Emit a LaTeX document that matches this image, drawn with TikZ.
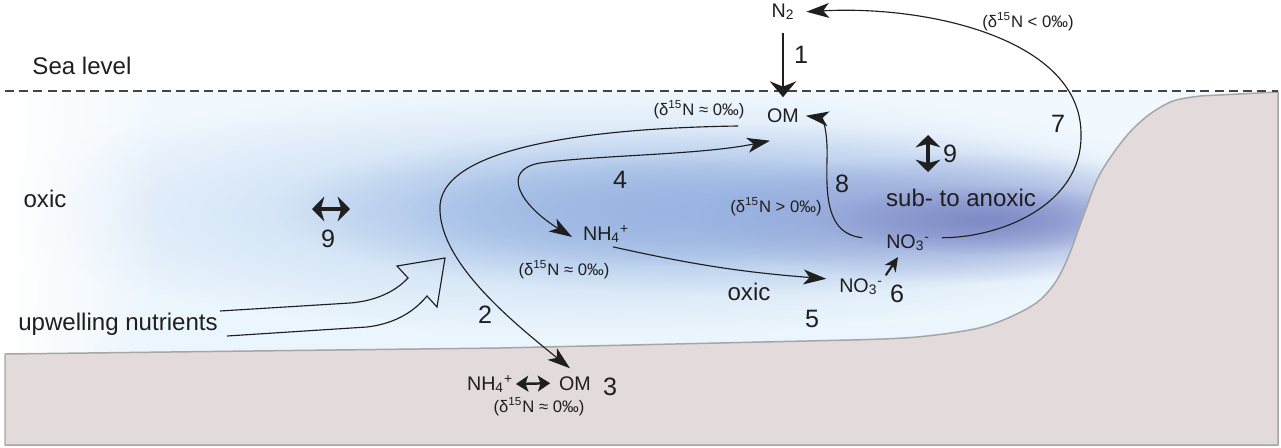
\documentclass[tikz,border=0pt]{standalone}
\usepackage{fontspec}
\setmainfont{Liberation Sans}
\usetikzlibrary{arrows.meta,fadings}

\definecolor{ink}{HTML}{1F1F1F}
\definecolor{seabed}{HTML}{E3DBDB}
\definecolor{seabedline}{HTML}{A8A5A5}
\definecolor{sealine}{HTML}{444444}
\definecolor{watertop}{HTML}{F2F9FE}
\definecolor{watermid}{HTML}{DCECF9}
\definecolor{waterbot}{HTML}{EAF5FD}
\definecolor{bandlight}{HTML}{BCD3F0}
\definecolor{bandmid}{HTML}{9AB5E2}
\definecolor{bandpurple}{HTML}{96A2D6}
\definecolor{banddark}{HTML}{7F8AC6}

\tikzfading[name=blob, inner color=transparent!0, outer color=transparent!100]
\tikzfading[name=fadeleft, left color=transparent!0, right color=transparent!100]

\tikzset{
  bigtext/.style={text=ink, inner sep=1.5pt, anchor=base, font=\fontsize{13.7}{16}\selectfont},
  numtext/.style={text=ink, inner sep=1.5pt, anchor=base, font=\fontsize{14.3}{17}\selectfont},
  chemtext/.style={text=ink, inner sep=1.5pt, anchor=base, font=\fontsize{11.2}{13}\selectfont},
  deltatext/.style={text=ink, inner sep=1.5pt, anchor=base, font=\fontsize{9.5}{11}\selectfont},
  flowarrow/.style={draw=ink, line width=0.65pt, -{Stealth[length=13pt,width=8.5pt,inset=3.5pt]}},
  flowboth/.style={draw=ink, line width=0.65pt, {Stealth[length=13pt,width=8.5pt,inset=3.5pt]}-{Stealth[length=13pt,width=8.5pt,inset=3.5pt]}},
  thickflow/.style={draw=ink, line width=1.3pt, -{Stealth[length=9pt,width=15pt,inset=3pt]}},
  shortflow/.style={draw=ink, line width=1.2pt, -{Stealth[length=8pt,width=7.5pt,inset=2.5pt]}},
  mixarrow/.style={draw=ink, line width=2pt, {Stealth[length=7pt,width=14pt,inset=2pt]}-{Stealth[length=7pt,width=14pt,inset=2pt]}},
  exchange/.style={draw=ink, line width=1.4pt, {Stealth[length=7pt,width=9pt,inset=1.5pt]}-{Stealth[length=7pt,width=9pt,inset=1.5pt]}}
}

\begin{document}
\begin{tikzpicture}[x=0.02cm,y=-0.02cm]
  \useasboundingbox (0,0) rectangle (1281,447);

  % water column
  \begin{scope}
    \clip (5,91) rectangle (1278,358);
    \shade[top color=watertop, middle color=watermid, bottom color=waterbot] (5,91) rectangle (1278,358);
    \fill[bandlight, path fading=blob] (600,210) ellipse [x radius=620, y radius=125];
    \fill[bandlight, path fading=blob] (560,212) ellipse [x radius=260, y radius=60];
    \fill[bandmid, path fading=blob] (740,210) ellipse [x radius=470, y radius=85];
    \fill[bandmid, path fading=blob] (700,212) ellipse [x radius=300, y radius=55];
    \fill[bandpurple, path fading=blob] (960,218) ellipse [x radius=260, y radius=65];
    \fill[banddark, path fading=blob] (985,220) ellipse [x radius=170, y radius=35];
    \fill[white, path fading=fadeleft] (5,91) rectangle (160,358);
  \end{scope}

  % seabed
  \draw[seabedline, line width=0.85pt, fill=seabed, line join=round]
    (5,354) -- (500,348) -- plot[smooth, tension=0.55] coordinates {(850,340) (917,337) (983,327) (1030,307) (1052,287) (1067,260) (1083,217) (1097,180) (1112,155) (1130,132) (1150,114) (1173,101) (1200,96)}
    -- (1278,92) -- (1278,445) -- (5,445) -- cycle;

  % sea level
  \draw[sealine, line width=0.75pt, dash pattern=on 5.1pt off 3pt] (5,91) -- (1278,91);

  % texts
  \node[bigtext] (sealevel) at (82,74) {Sea level};
  \node[bigtext] (oxicleft) at (45,207) {oxic};
  \node[bigtext] (upwelling) at (118,330) {upwelling nutrients};
  \node[bigtext] (oxicmid) at (749,300) {oxic};
  \node[bigtext] (anoxic) at (961,206) {sub- to anoxic};

  % species
  \node[chemtext] (N2) at (783,17) {N\textsubscript{2}};
  \node[chemtext] (OMtop) at (783,122.5) {OM};
  \node[chemtext] (NH4mid) at (606,240) {NH\textsubscript{4}\textsuperscript{+}};
  \node[chemtext] (NO3low) at (861,292) {NO\textsubscript{3}\textsuperscript{-}};
  \node[chemtext] (NO3up) at (908,248) {NO\textsubscript{3}\textsuperscript{-}};
  \node[chemtext] (NH4bot) at (490,390) {NH\textsubscript{4}\textsuperscript{+}};
  \node[chemtext] (OMbot) at (575,390) {OM};

  % isotope signatures
  \node[deltatext] (dOM) at (699,115) {(δ\textsuperscript{15}N ≈ 0‰)};
  \node[deltatext] (dNH4) at (564,275) {(δ\textsuperscript{15}N ≈ 0‰)};
  \node[deltatext] (dNO3) at (776,212) {(δ\textsuperscript{15}N > 0‰)};
  \node[deltatext] (dN2) at (1028,27) {(δ\textsuperscript{15}N < 0‰)};
  \node[deltatext] (dbot) at (539,412) {(δ\textsuperscript{15}N ≈ 0‰)};

  % process numbers
  \node[numtext] (n1) at (801,63) {1};
  \node[numtext] (n2) at (485,323) {2};
  \node[numtext] (n3) at (610,395) {3};
  \node[numtext] (n4) at (620,188) {4};
  \node[numtext] (n5) at (812,327) {5};
  \node[numtext] (n6) at (897,302) {6};
  \node[numtext] (n7) at (1058,132) {7};
  \node[numtext] (n8) at (842,192) {8};
  \node[numtext] (n9right) at (950,162) {9};
  \node[numtext] (n9left) at (328,247) {9};

  % upwelling arrow
  \draw[ink, line width=0.65pt] (220,311) -- (350,303) .. controls (375,301) and (395,292) .. (408,278)
    -- (397,266) -- (445,258) -- (437,307) -- (427,296)
    .. controls (412,314) and (392,324) .. (367,327) -- (227,336);

  % fluxes
  \draw[thickflow] ([shift={(0,10)}]N2.south) -- ([shift={(0,-8.6)}]OMtop.north);

  \coordinate (a2) at (738,126);
  \draw[flowarrow] (a2) .. controls (600,128) and (445,145) .. (440,205)
    .. controls (437,260) and (510,320) .. ([shift={(-5,-5)}]OMbot.north);

  \draw[flowboth] ([shift={(-8,3)}]NH4mid.west) .. controls (520,205) and (500,170) .. (540,163)
    .. controls (600,155) and (700,155) .. ([shift={(-13,15)}]OMtop.south);

  \draw[flowarrow] ([shift={(7,1)}]NH4mid.south) to[bend right=4] ([shift={(-10,3.5)}]NO3low.north west);

  \draw[shortflow] (NO3low.north east) -- ([shift={(-10,3)}]NO3up.south);

  \draw[flowarrow] ([shift={(9,-5)}]NO3up.east) .. controls (1000,238) and (1082,205) .. (1081,135)
    .. controls (1082,40) and (930,5) .. ([shift={(9,0)}]N2.east);

  \draw[flowarrow] ([shift={(-21,-5)}]NO3up.west) .. controls (828,234) and (826,200) .. (827,160)
    .. controls (828,128) and (822,118) .. ([shift={(4,0)}]OMtop.east);

  \draw[exchange] (NH4bot.east) -- ([shift={(-6,0)}]OMbot.west);

  % mixing
  \coordinate (v9top) at (928,135);
  \coordinate (v9bot) at (928,172);
  \draw[mixarrow] (v9top) -- (v9bot);
  \coordinate (h9left) at (312,209);
  \coordinate (h9right) at (350,209);
  \draw[mixarrow] (h9left) -- (h9right);
\end{tikzpicture}
\end{document}
